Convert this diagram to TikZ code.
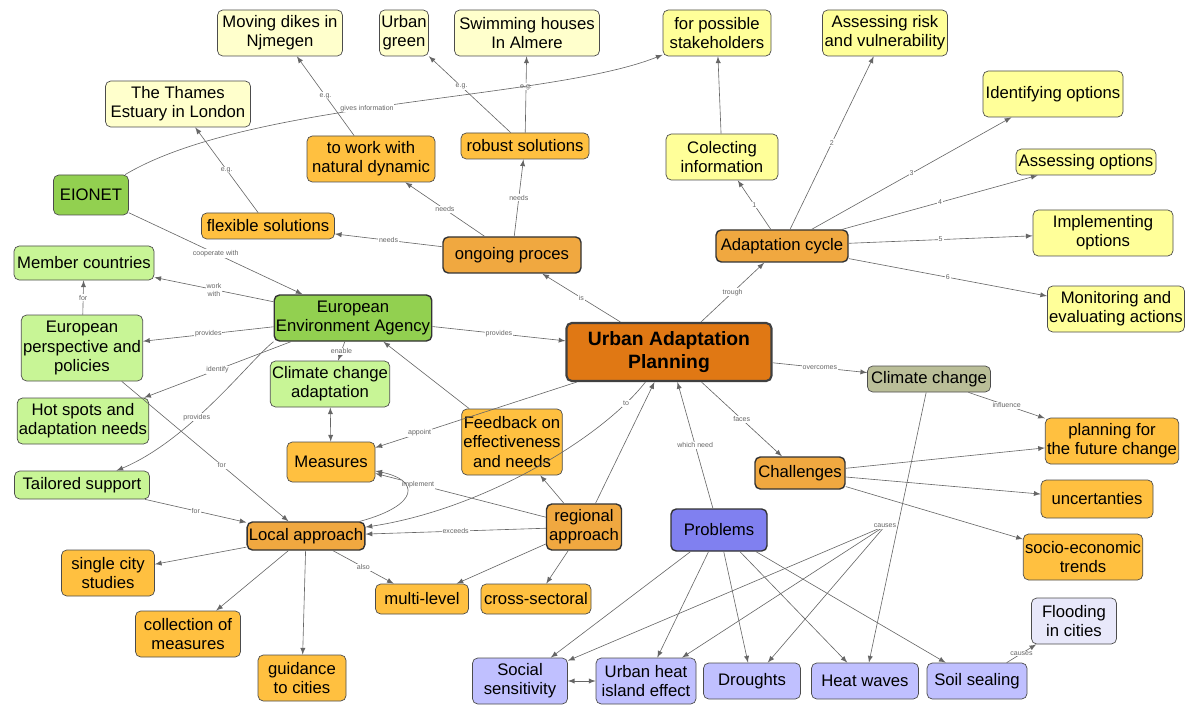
\documentclass[tikz,border=0pt]{standalone}
\usepackage{fontspec}
\setmainfont{Liberation Sans}
\begin{document}
\begin{tikzpicture}[x=0.02cm,y=-0.02cm]

\definecolor{paley}{RGB}{255,255,204}
\definecolor{yel}{RGB}{255,255,153}
\definecolor{ora}{RGB}{255,192,64}
\definecolor{dora}{RGB}{240,168,64}
\definecolor{grn}{RGB}{146,208,80}
\definecolor{lgrn}{RGB}{200,245,150}
\definecolor{blu}{RGB}{128,128,240}
\definecolor{lblu}{RGB}{192,192,255}
\definecolor{llav}{RGB}{232,232,250}
\definecolor{gry}{RGB}{186,190,152}
\definecolor{main}{RGB}{224,120,20}

\tikzstyle{box} = [
	draw=black!70, rectangle, rounded corners=3pt, align=center,
	inner sep=1pt, font=\fontsize{9.5}{11}\selectfont ];
\tikzstyle{bold} = [box, draw=black!80, line width=0.8pt];
\tikzstyle{lbl} = [font=\fontsize{4}{4.5}\selectfont, text=black!60,
	fill=white, inner sep=0.5pt, align=center];
\tikzstyle{con} = [draw=black!60, line width=0.35pt, -latex];
\useasboundingbox (0,0) rectangle (1200,716);

% top row
\node[box,fill=paley,minimum width=125*0.02cm,minimum height=46*0.02cm] (dikes) at (280,33) {Moving dikes in\\Njmegen};
\node[box,fill=paley,minimum width=46*0.02cm,minimum height=46*0.02cm] (green) at (404,33) {Urban\\green};
\node[box,fill=paley,minimum width=145*0.02cm,minimum height=46*0.02cm] (swim) at (527,33) {Swimming houses\\In Almere};
\node[box,fill=yel,minimum width=108*0.02cm,minimum height=46*0.02cm] (stake) at (717,33) {for possible\\stakeholders};
\node[box,fill=yel,minimum width=125*0.02cm,minimum height=46*0.02cm] (risk) at (885,33) {Assessing risk\\and vulnerability};
\node[box,fill=paley,minimum width=145*0.02cm,minimum height=46*0.02cm] (thames) at (178,104) {The Thames\\Estuary in London};
\node[box,fill=ora,minimum width=128*0.02cm,minimum height=46*0.02cm] (work) at (371,159) {to work with\\natural dynamic};
\node[box,fill=ora,minimum width=128*0.02cm,minimum height=26*0.02cm] (robust) at (525,146) {robust solutions};
\node[box,fill=yel,minimum width=112*0.02cm,minimum height=46*0.02cm] (collect) at (722,157) {Colecting\\information};
\node[box,fill=yel,minimum width=140*0.02cm,minimum height=46*0.02cm] (ident) at (1053,94) {Identifying options};
\node[box,fill=yel,minimum width=140*0.02cm,minimum height=26*0.02cm] (assess) at (1086,162) {Assessing options};
\node[box,fill=yel,minimum width=140*0.02cm,minimum height=46*0.02cm] (impl) at (1103,233) {Implementing\\options};
\node[box,fill=yel,minimum width=137*0.02cm,minimum height=46*0.02cm] (monit) at (1116,309) {Monitoring and\\evaluating actions};

% middle
\node[box,fill=grn,minimum width=75*0.02cm,minimum height=40*0.02cm] (eionet) at (91,195) {EIONET};
\node[box,fill=ora,minimum width=133*0.02cm,minimum height=26*0.02cm] (flex) at (268,226) {flexible solutions};
\node[bold,fill=dora,minimum width=138*0.02cm,minimum height=36*0.02cm] (ongoing) at (512,255) {ongoing proces};
\node[bold,fill=dora,minimum width=132*0.02cm,minimum height=32*0.02cm] (cycle) at (782,246) {Adaptation cycle};
\node[box,fill=lgrn,minimum width=140*0.02cm,minimum height=34*0.02cm] (member) at (84,263) {Member countries};
\node[bold,fill=grn,minimum width=145*0.02cm,minimum height=46*0.02cm] (eea) at (353,318) {European\\Environment Agency};
\node[box,draw=black!75,line width=1.2pt,fill=main,minimum width=205*0.02cm,minimum height=58*0.02cm,font=\fontsize{11}{13}\selectfont\bfseries] (uap) at (669,352) {Urban Adaptation\\Planning};
\node[box,fill=lgrn,minimum width=115*0.02cm,minimum height=66*0.02cm] (persp) at (82,348) {European\\perspective and\\policies};
\node[box,fill=lgrn,minimum width=110*0.02cm,minimum height=46*0.02cm] (cca) at (330,384) {Climate change\\adaptation};
\node[box,fill=gry,minimum width=123*0.02cm,minimum height=26*0.02cm] (clim) at (929,379) {Climate change};
\node[box,fill=lgrn,minimum width=125*0.02cm,minimum height=46*0.02cm] (hot) at (83,421) {Hot spots and\\adaptation needs};
\node[box,fill=ora,minimum width=88*0.02cm,minimum height=40*0.02cm] (meas) at (331,462) {Measures};
\node[box,fill=ora,minimum width=96*0.02cm,minimum height=66*0.02cm] (feed) at (512,442) {Feedback on\\effectiveness\\and needs};
\node[box,fill=ora,minimum width=115*0.02cm,minimum height=46*0.02cm] (plan) at (1112,441) {planning for\\the future change};
\node[bold,fill=dora,minimum width=90*0.02cm,minimum height=32*0.02cm] (chall) at (800,473) {Challenges};
\node[box,fill=ora,minimum width=112*0.02cm,minimum height=38*0.02cm] (unc) at (1097,499) {uncertanties};
\node[box,fill=lgrn,minimum width=135*0.02cm,minimum height=28*0.02cm] (tail) at (82,485) {Tailored support};

% bottom
\node[bold,fill=dora,minimum width=88*0.02cm,minimum height=28*0.02cm] (local) at (306,536) {Local approach};
\node[bold,fill=dora,minimum width=75*0.02cm,minimum height=46*0.02cm] (region) at (584,527) {regional\\approach};
\node[bold,fill=blu,minimum width=96*0.02cm,minimum height=42*0.02cm] (prob) at (719,530) {Problems};
\node[box,fill=ora,minimum width=108*0.02cm,minimum height=46*0.02cm] (socio) at (1083,557) {socio-economic\\trends};
\node[box,fill=ora,minimum width=93*0.02cm,minimum height=46*0.02cm] (single) at (108,573) {single city\\studies};
\node[box,fill=ora,minimum width=93*0.02cm,minimum height=30*0.02cm] (multi) at (422,599) {multi-level};
\node[box,fill=ora,minimum width=110*0.02cm,minimum height=30*0.02cm] (cross) at (536,599) {cross-sectoral};
\node[box,fill=llav,minimum width=85*0.02cm,minimum height=46*0.02cm] (flood) at (1074,621) {Flooding\\in cities};
\node[box,fill=ora,minimum width=105*0.02cm,minimum height=46*0.02cm] (collm) at (188,634) {collection of\\measures};
\node[box,fill=ora,minimum width=88*0.02cm,minimum height=46*0.02cm] (guid) at (302,678) {guidance\\to cities};
\node[box,fill=lblu,minimum width=95*0.02cm,minimum height=46*0.02cm] (social) at (520,681) {Social\\sensitivity};
\node[box,fill=lblu,minimum width=100*0.02cm,minimum height=46*0.02cm] (uhi) at (646,681) {Urban heat\\island effect};
\node[box,fill=lblu,minimum width=97*0.02cm,minimum height=36*0.02cm] (drought) at (752,681) {Droughts};
\node[box,fill=lblu,minimum width=107*0.02cm,minimum height=36*0.02cm] (heat) at (865,681) {Heat waves};
\node[box,fill=lblu,minimum width=100*0.02cm,minimum height=36*0.02cm] (soil) at (977,681) {Soil sealing};
\coordinate (hub) at (885,526);

% connectors
\draw[con] (work) -- node[lbl]{e.g.} (dikes);
\draw[con] (robust) -- node[lbl,pos=0.6]{e.g.} (green);
\draw[con] (robust) -- node[lbl,pos=0.6]{e.g.} (swim);
\draw[con] (flex) -- node[lbl]{e.g.} (thames);
\draw[con] (eionet) .. controls (250,100) and (550,100) .. node[lbl,pos=0.45]{gives information} (stake);
\draw[con] (collect) -- (stake);
\draw[con] (cycle) -- node[lbl]{1} (collect);
\draw[con] (cycle) -- node[lbl]{2} (risk);
\draw[con] (cycle) -- node[lbl]{3} (ident);
\draw[con] (cycle) -- node[lbl]{4} (assess);
\draw[con] (cycle) -- node[lbl]{5} (impl);
\draw[con] (cycle) -- node[lbl]{6} (monit);
\draw[con] (ongoing) -- node[lbl]{needs} (flex);
\draw[con] (ongoing) -- node[lbl]{needs} (work);
\draw[con] (ongoing) -- node[lbl]{needs} (robust);
\draw[con] (uap) -- node[lbl]{is} (ongoing);
\draw[con] (uap) -- node[lbl]{trough} (cycle);
\draw[con] (eionet) -- node[lbl]{cooperate with} (eea);
\draw[con] (eea) -- node[lbl]{work\\with} (member);
\draw[con] (persp) -- node[lbl]{for} (member);
\draw[con] (eea) -- node[lbl]{provides} (persp);
\draw[con] (eea) -- node[lbl]{identify} (hot);
\draw[con] (eea.south west) .. controls (250,360) and (190,440) .. node[lbl,pos=0.6]{provides} (tail);
\draw[con] (eea) -- node[lbl]{provides} (uap);
\draw[con] (eea) -- node[lbl]{enable} (cca);
\draw[con,latex-latex] (cca) -- (meas);
\draw[con] (persp) -- node[lbl,pos=0.6]{for} (local);
\draw[con] (tail) -- node[lbl]{for} (local);
\draw[con] (uap) -- node[lbl,pos=0.78]{appoint} (meas);
\draw[con] (feed) -- (eea);
\draw[con] (region) -- (feed);
\draw[con] (region) -- (uap);
\draw[con] (uap) .. controls (600,440) and (480,510) .. node[lbl,pos=0.12]{to} (local);
\draw[con] (region) -- node[lbl]{exceeds} (local);
\draw[con] (region) -- node[lbl,pos=0.75]{implement} (meas);
\draw[con] (local) .. controls (420,505) and (420,480) .. (meas);
\draw[con] (local) -- (single);
\draw[con] (local) -- (collm);
\draw[con] (local) -- (guid);
\draw[con] (local) -- node[lbl]{also} (multi);
\draw[con] (region) -- (multi);
\draw[con] (region) -- (cross);
\draw[con] (uap) -- node[lbl]{overcomes} (clim);
\draw[con] (clim) -- node[lbl]{influence} (plan);
\draw[con] (uap) -- node[lbl]{faces} (chall);
\draw[con] (prob) -- node[lbl]{which need} (uap);
\draw[con] (chall) -- (plan);
\draw[con] (chall) -- (unc);
\draw[con] (chall) -- (socio);
\draw[con] (clim) -- (heat);
\draw[con] (hub) -- (social);
\draw[con] (hub) -- (uhi);
\draw[con] (hub) -- (drought);
\node[lbl] at (hub) {causes};
\draw[con] (prob) -- (social);
\draw[con] (prob) -- (uhi);
\draw[con] (prob) -- (drought);
\draw[con] (prob) -- (heat);
\draw[con] (prob) -- (soil);
\draw[con,latex-latex] (social) -- (uhi);
\draw[con] (soil) -- node[lbl]{causes} (flood);

\end{tikzpicture}
\end{document}
